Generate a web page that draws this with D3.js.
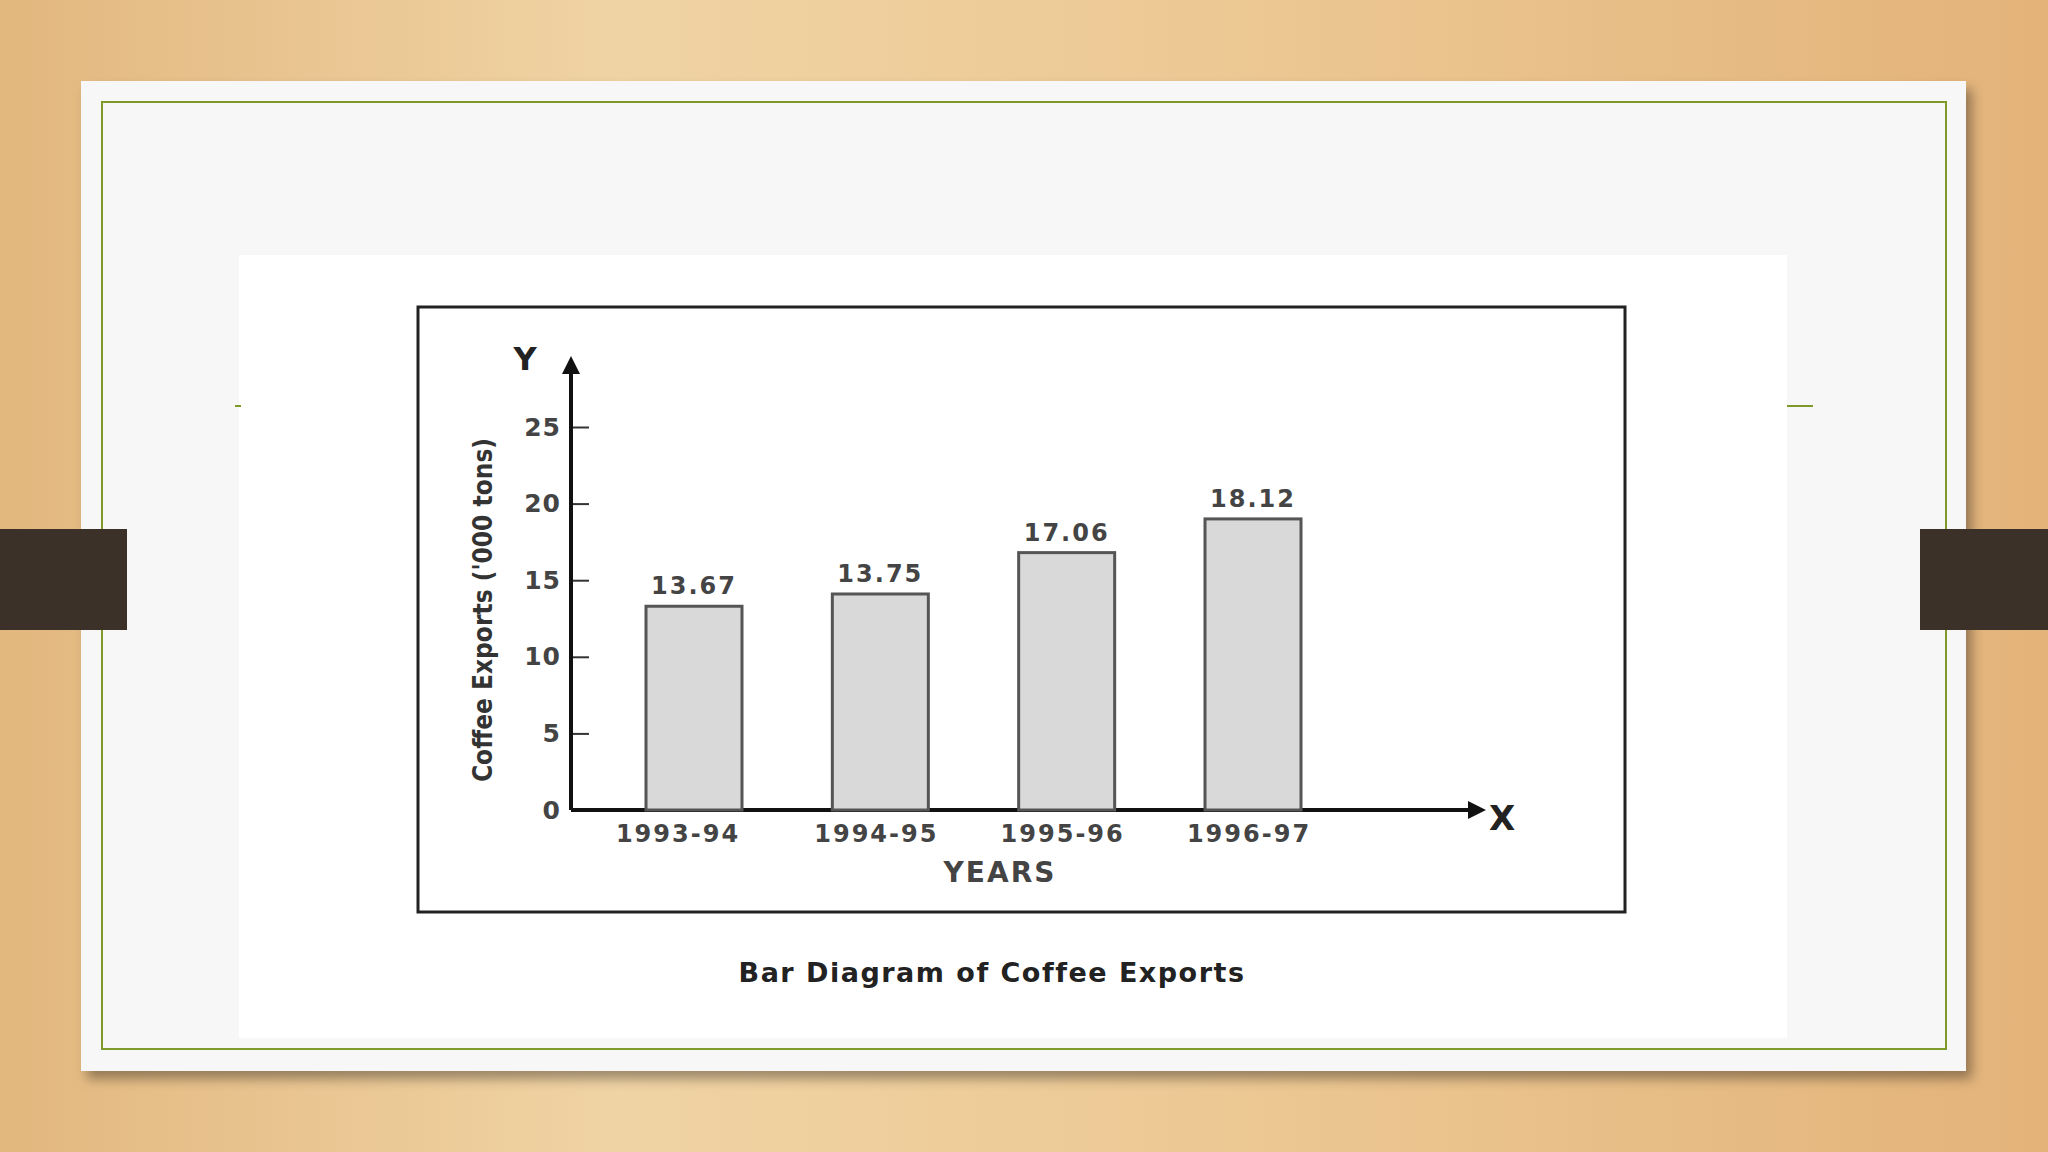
<!DOCTYPE html><html><head><meta charset="utf-8">
<script src="https://cdn.jsdelivr.net/npm/d3@7"></script>
<style>body{margin:0;overflow:hidden}svg{display:block}</style></head><body>
<script>
const categories=["1993-94","1994-95","1995-96","1996-97"];
const barValues=[13.3,14.1,16.8,19.0];
const valueLabels=["13.67","13.75","17.06","18.12"];
const yTicks=[0,5,10,15,20,25];
const W=2048,H=1152;
const svg=d3.select("body").append("svg").attr("width",W).attr("height",H);
const defs=svg.append("defs");
const g=defs.append("linearGradient").attr("id","wood").attr("x1",0).attr("x2",1).attr("y1",0).attr("y2",0);
[["0","#e2b77e"],["0.3","#f0d3a4"],["0.6","#ecc893"],["1","#e3b37a"]].forEach(s=>g.append("stop").attr("offset",s[0]).attr("stop-color",s[1]));
const f=defs.append("filter").attr("id","sh").attr("x","-5%").attr("y","-5%").attr("width","110%").attr("height","115%");
f.append("feDropShadow").attr("dx",6).attr("dy",8).attr("stdDeviation",6).attr("flood-color","#000").attr("flood-opacity",0.35);
svg.append("rect").attr("width",W).attr("height",H).attr("fill","url(#wood)");
svg.append("rect").attr("x",81).attr("y",81).attr("width",1885).attr("height",990).attr("fill","#f7f7f7").attr("filter","url(#sh)");
svg.append("rect").attr("x",102).attr("y",102).attr("width",1844).attr("height",947).attr("fill","none").attr("stroke","#7d9a2a").attr("stroke-width",2);
svg.append("rect").attr("x",0).attr("y",529).attr("width",127).attr("height",101).attr("fill","#3b3129");
svg.append("rect").attr("x",1920).attr("y",529).attr("width",128).attr("height",101).attr("fill","#3b3129");
svg.append("rect").attr("x",239).attr("y",255).attr("width",1548).attr("height",783).attr("fill","#fff");
svg.append("line").attr("x1",235).attr("x2",241).attr("y1",406).attr("y2",406).attr("stroke","#7d9a2a").attr("stroke-width",2);
svg.append("line").attr("x1",1787).attr("x2",1813).attr("y1",406).attr("y2",406).attr("stroke","#7d9a2a").attr("stroke-width",2);
svg.append("rect").attr("x",418).attr("y",307).attr("width",1207).attr("height",605).attr("fill","#fff").attr("stroke","#222").attr("stroke-width",3);
const y=d3.scaleLinear().domain([0,25]).range([810,427]);
const x=d3.scalePoint().domain(categories).range([694,1253]);
const bw=96;
const FONT="DejaVu Sans, Verdana";
const ax=svg.append("g").attr("transform","translate(571,0)").call(d3.axisLeft(y).tickValues(yTicks).tickSize(-18).tickPadding(6));
ax.select(".domain").remove();
ax.selectAll(".tick line").attr("stroke","#333").attr("stroke-width",2).attr("x1",0).attr("x2",18);
ax.selectAll(".tick text").attr("font-family",FONT).attr("font-size",25).attr("font-weight","bold").attr("fill","#444").attr("x",-10).attr("letter-spacing",1);
svg.append("line").attr("x1",571).attr("x2",571).attr("y1",810).attr("y2",368).attr("stroke","#111").attr("stroke-width",4);
svg.append("path").attr("d","M571,356 L562,374 L580,374 Z").attr("fill","#111");
svg.append("line").attr("x1",571).attr("x2",1472).attr("y1",810).attr("y2",810).attr("stroke","#111").attr("stroke-width",4);
svg.append("path").attr("d","M1486,810 L1468,801 L1468,819 Z").attr("fill","#111");
svg.selectAll("rect.bar").data(categories).enter().append("rect").attr("class","bar")
 .attr("x",d=>x(d)-bw/2).attr("width",bw).attr("y",(d,i)=>y(barValues[i])).attr("height",(d,i)=>810-y(barValues[i]))
 .attr("fill","#d9d9d9").attr("stroke","#555").attr("stroke-width",3);
const txt=(t,xx,yy,s,opt={})=>svg.append("text").text(t).attr("x",xx).attr("y",yy).attr("font-size",s).attr("font-family",FONT).attr("font-weight","bold").attr("fill",opt.fill||"#444").attr("text-anchor",opt.anchor||"middle").attr("letter-spacing",opt.ls||0);
categories.forEach((c,i)=>{txt(valueLabels[i],x(c),y(barValues[i])-12,24,{ls:2});txt(c,x(c)-(i==0?16:4),842,24,{ls:2});});
txt("YEARS",1000,882,28,{ls:2});
txt("Y",525,370,32,{fill:"#222"});
txt("X",1502,830,34,{fill:"#222"});
svg.append("text").text("Coffee Exports ('000 tons)").attr("transform","translate(492,610) rotate(-90)").attr("text-anchor","middle").attr("font-size",26).attr("font-family","DejaVu Sans Condensed, DejaVu Sans").attr("font-weight","bold").attr("fill","#333");
txt("Bar Diagram of Coffee Exports",992,982,27,{fill:"#222",ls:1.5});
</script></body></html>
